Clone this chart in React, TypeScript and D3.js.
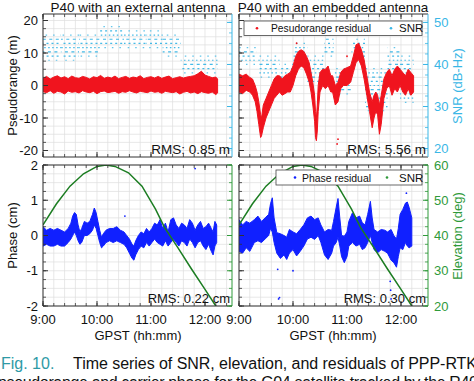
import React from 'react';
import * as d3 from 'd3';

// ---------- data (time in minutes after 9:00 GPST) ----------
const timeTicks = [0, 60, 120, 180];
const timeLabels = ['9:00', '10:00', '11:00', '12:00'];
const prTicks = [20, 10, 0, -10, -20];
const snrTicks = [50, 40, 30, 20];
const phTicks = [2, 1, 0, -1, -2];
const elTicks = [60, 50, 40, 30, 20];

// Left: pseudorange residual envelope (m), external antenna
const prLeftT = [0, 4, 8, 12, 16, 20, 24, 28, 32, 36, 40, 44, 48, 52, 56, 60, 64, 68, 72, 76, 80, 84, 88, 92, 96, 100, 104, 108, 112, 116, 120, 124, 128, 132, 136, 140, 144, 148, 152, 156, 160, 164, 168, 172, 176, 180, 184, 188, 192, 194];
const prLeftLo = [-1.9, -2.2, -1.6, -2.4, -1.8, -2.0, -2.6, -1.7, -2.1, -1.9, -2.3, -1.6, -2.0, -2.2, -1.8, -2.5, -1.9, -1.7, -2.2, -2.0, -1.8, -2.4, -1.9, -2.1, -1.6, -2.0, -2.3, -1.8, -2.0, -2.2, -1.7, -2.1, -1.9, -2.4, -1.8, -2.0, -2.2, -1.9, -2.6, -2.1, -1.8, -2.3, -2.0, -2.5, -1.9, -2.2, -2.4, -2.0, -2.8, -2.3];
const prLeftHi = [2.2, 2.8, 2.0, 2.6, 3.0, 2.3, 2.7, 2.1, 2.9, 2.4, 2.2, 2.8, 2.5, 2.0, 2.7, 2.4, 3.1, 2.2, 2.6, 2.3, 2.9, 2.1, 2.5, 2.8, 2.2, 2.6, 2.4, 3.0, 2.1, 2.5, 2.7, 2.3, 2.8, 2.2, 2.6, 2.9, 2.1, 2.4, 2.7, 2.3, 2.6, 2.8, 3.0, 3.6, 4.4, 3.2, 2.8, 2.4, 2.6, 2.0];

// Right: pseudorange residual envelope (m), embedded antenna
const prRightT = [0, 4, 8, 12, 15, 18, 20, 22, 24, 25, 27, 30, 33, 36, 39, 42, 45, 48, 51, 54, 57, 60, 63, 66, 69, 72, 75, 78, 80, 82, 84, 85, 86, 87, 88, 90, 93, 96, 99, 102, 104, 107, 110, 113, 116, 120, 124, 127, 130, 133, 136, 139, 142, 145, 148, 150, 152, 154, 156, 158, 161, 164, 167, 170, 173, 176, 179, 182, 185, 188, 191, 194];
const prRightLo = [-2, -2.5, -1.5, -2, -3, -5, -8, -12, -16, -15.5, -13, -10, -8, -6, -4, -3, -2, -3, -2.5, -2, -2, 0, 3, 5, 6, 5.5, 3.5, 1, -2, -6, -11, -16, -17, -14, -8, -2, 0, -1, 0, -2, -2, -6, -5, -1, 0, 0, 1, 4, 7, 8, 6, 2, -3, -8, -13, -10, -8, -9, -15, -12, -4, -1, 0, -3, -1, -2, 0, -2, -3, -1, -3, -2];
const prRightHi = [3.5, 3, 3.5, 2.5, 2, 0, -2, -5, -9, -10, -6, -4, -2, 0, 2, 3, 3, 2, 3, 3.5, 4, 6, 9, 10.5, 11, 10.5, 9, 7, 4, 1, -3, -8, -10, -6, 0, 4, 5, 5, 6, 3, 3, 0, 1, 4, 5, 5.5, 6, 9, 12.5, 13, 11, 8, 3, -2, -5, -3, -2, -3, -6, -3, 2, 4, 5, 3, 5, 6, 5, 4, 3, 5, 4, 3];
const prRightOutT = [109, 110, 179, 120, 64];
const prRightOutV = [-18, -16.5, 16, 9, 13];

// SNR (dB-Hz) bands: bin boundaries, lowest and highest observed integer level
const snrLeftT = [0, 20, 40, 63, 90, 115, 133, 153, 194];
const snrLeftLo = [41, 41, 42, 44, 44, 44, 42, 38];
const snrLeftHi = [47, 47, 47, 49, 48, 48, 47, 42];
const snrRightT = [0, 20, 45, 60, 76, 95, 105, 125, 140, 165, 179, 194];
const snrRightLo = [40, 37, 36, 40, 35, 42, 33, 41, 29, 37, 31];
const snrRightHi = [44, 42, 40, 45, 42, 47, 39, 46, 39, 44, 42];

// Phase residual envelopes (cm)
const phLeftT = [0, 4, 8, 12, 16, 20, 24, 28, 31, 33, 35, 37, 39, 41, 43, 46, 49, 52, 55, 57, 59, 61, 63, 65, 67, 70, 74, 78, 82, 86, 90, 93, 96, 99, 101, 103, 106, 109, 112, 115, 118, 121, 124, 127, 130, 133, 136, 139, 142, 145, 148, 151, 154, 157, 160, 163, 166, 169, 172, 175, 178, 181, 184, 187, 189, 191, 193];
const phLeftLo = [-0.3, -0.25, -0.3, -0.3, -0.25, -0.3, -0.3, -0.2, -0.1, 0.0, 0.1, 0.0, -0.15, -0.25, -0.2, 0.0, 0.0, 0.05, 0.15, 0.3, 0.2, 0.0, -0.2, -0.35, -0.3, -0.2, -0.15, -0.2, -0.15, -0.2, -0.25, -0.35, -0.5, -0.65, -0.7, -0.55, -0.4, -0.3, -0.35, -0.2, -0.3, -0.2, -0.1, -0.2, -0.25, -0.3, -0.15, -0.3, -0.2, -0.1, -0.2, -0.3, -0.15, -0.2, -0.3, -0.1, -0.2, -0.35, -0.2, -0.15, -0.3, -0.4, -0.25, -0.45, -0.55, -0.3, -0.2];
const phLeftHi = [0.25, 0.15, 0.2, 0.15, 0.2, 0.15, 0.1, 0.2, 0.35, 0.55, 0.65, 0.6, 0.3, 0.1, 0.2, 0.4, 0.35, 0.4, 0.6, 0.78, 0.65, 0.4, 0.15, -0.05, 0.05, 0.15, 0.2, 0.2, 0.25, 0.15, 0.1, 0.0, -0.1, -0.25, -0.3, -0.15, 0.0, 0.1, 0.05, 0.2, 0.1, 0.2, 0.35, 0.3, 0.45, 0.2, 0.35, 0.1, 0.45, 0.5, 0.3, 0.2, 0.35, 0.3, 0.2, 0.45, 0.35, 0.15, 0.3, 0.4, 0.2, 0.25, 0.35, 0.2, 0.1, 0.4, 0.3];
const phLeftOutT = [169, 91];
const phLeftOutV = [1.9, 0.55];

const phRightT = [0, 4, 8, 12, 17, 21, 25, 29, 33, 35, 37, 39, 42, 46, 50, 53, 56, 60, 64, 68, 72, 76, 80, 84, 88, 91, 95, 99, 103, 105, 108, 110, 112, 114, 117, 120, 122, 126, 130, 134, 137, 140, 143, 146, 148, 150, 154, 158, 162, 165, 169, 172, 175, 177, 179, 182, 185, 187, 189, 192];
const phRightLo = [-0.45, -0.5, -0.35, -0.45, -0.2, -0.15, -0.2, -0.1, 0.0, 0.2, 0.1, -0.2, -0.5, -0.65, -0.55, -0.68, -0.5, -0.4, -0.58, -0.45, -0.3, -0.1, -0.05, -0.11, 0.0, -0.2, -0.55, -0.68, -0.5, -0.3, -0.2, -0.05, -0.3, -0.6, -0.77, -0.6, -0.3, -0.2, -0.3, -0.25, -0.4, -0.35, -0.2, 0.0, -0.2, -0.4, -0.49, -0.4, -0.45, -0.5, -0.7, -0.77, -0.9, -0.6, -0.35, -0.4, -0.2, -0.3, -0.35, -0.3];
const phRightHi = [0.45, 0.3, 0.4, 0.35, 0.45, 0.55, 0.4, 0.5, 0.6, 0.9, 1.07, 0.5, 0.08, 0.05, 0.0, -0.05, 0.17, 0.1, 0.05, 0.17, 0.3, 0.5, 0.55, 0.45, 0.5, 0.3, 0.1, 0.17, 0.15, 0.4, 0.8, 1.05, 0.5, 0.0, -0.02, 0.1, 0.4, 0.64, 0.5, 0.55, 0.36, 0.3, 0.6, 0.97, 0.5, 0.17, 0.1, 0.17, 0.15, 0.1, 0.17, 0.0, -0.1, 0.2, 0.6, 0.74, 0.92, 0.95, 0.8, 0.5];
const phRightOutT = [43, 45, 44, 168, 168.5, 169, 186, 60];
const phRightOutV = [-0.96, -1.76, -1.8, -1.3, -1.55, -1.8, 1.2, -1.0];

// Satellite elevation (deg)
const elevT = [0, 15, 30, 45, 60, 70, 80, 95, 110, 125, 135, 150, 165, 180, 192, 200];
const elevV = [43, 49, 54, 57.5, 59.6, 60, 59.6, 57.8, 54, 47.5, 42.3, 36.5, 30.5, 24.7, 20, 17];

// ---------- styles ----------
const FONT = '"Liberation Sans", Arial, Helvetica, sans-serif';
const RED = '#f0141e';
const BLUE = '#1020ff';
const CYAN = '#3ab7e6';
const GREEN = '#2f9a3a';
const DKGREEN = '#1c7d22';
const GRID = '#dedede';
const AXIS = '#333';

const PW = 189;
const PANEL_X = [43, 239];
const TOP = { y0: 14, y1: 157 };
const BOT = { y0: 165, y1: 306 };

function envelope(T: number[], lo: number[], hi: number[], x: any, y: any) {
  const idx = T.map((_, i) => i);
  return d3.area<number>()
    .x((i) => x(T[i]))
    .y0((i) => y(lo[i]))
    .y1((i) => y(hi[i]))(idx) || '';
}

function Grid({ x0, y0, y1, yScale, yMinorStep, yDomain }: any) {
  const x = d3.scaleLinear().domain([0, 210]).range([x0, x0 + PW]);
  const x1 = x0 + PW;
  const minorT = d3.range(0, 211, 12);
  const yMinor = d3.range(Math.ceil(yDomain[0] / yMinorStep) * yMinorStep, yDomain[1] + 1e-9, yMinorStep);
  return (
    <g>
      {minorT.map((t) => (
        <line key={'gx' + t} x1={x(t)} x2={x(t)} y1={y0} y2={y1} stroke={GRID} strokeWidth={0.7} />
      ))}
      {yMinor.map((v) => (
        <line key={'gy' + v} x1={x0} x2={x1} y1={yScale(v)} y2={yScale(v)} stroke={GRID} strokeWidth={0.7} />
      ))}
    </g>
  );
}

function Axes({ x0, y0, y1, yScale, yMajor, yMinorStep, yDomain, rightColor, leftLabels, rightLabels, rightScale, rightTicks, rightMinorStep, rightDomain, xLabels }: any) {
  const x = d3.scaleLinear().domain([0, 210]).range([x0, x0 + PW]);
  const x1 = x0 + PW;
  const minorT = d3.range(0, 211, 12);
  const yMinor = d3.range(Math.ceil(yDomain[0] / yMinorStep) * yMinorStep, yDomain[1] + 1e-9, yMinorStep);
  const rMinor = d3.range(Math.ceil(rightDomain[0] / rightMinorStep) * rightMinorStep, rightDomain[1] + 1e-9, rightMinorStep);
  return (
    <g>
      <line x1={x0} x2={x1} y1={y0} y2={y0} stroke={AXIS} strokeWidth={1} />
      <line x1={x0} x2={x1} y1={y1} y2={y1} stroke={AXIS} strokeWidth={1} />
      <line x1={x0} x2={x0} y1={y0} y2={y1} stroke={AXIS} strokeWidth={1} />
      <line x1={x1} x2={x1} y1={y0} y2={y1} stroke={rightColor} strokeWidth={1} />
      {minorT.map((t) => (
        <g key={'tx' + t}>
          <line x1={x(t)} x2={x(t)} y1={y1} y2={y1 - 3} stroke={AXIS} strokeWidth={0.8} />
          <line x1={x(t)} x2={x(t)} y1={y0} y2={y0 + 3} stroke={AXIS} strokeWidth={0.8} />
        </g>
      ))}
      {timeTicks.map((t) => (
        <g key={'Tx' + t}>
          <line x1={x(t)} x2={x(t)} y1={y1} y2={y1 - 5} stroke={AXIS} strokeWidth={1} />
          <line x1={x(t)} x2={x(t)} y1={y0} y2={y0 + 5} stroke={AXIS} strokeWidth={1} />
        </g>
      ))}
      {yMinor.map((v) => (
        <line key={'ty' + v} x1={x0} x2={x0 + 3} y1={yScale(v)} y2={yScale(v)} stroke={AXIS} strokeWidth={0.8} />
      ))}
      {yMajor.map((v: number) => (
        <line key={'Ty' + v} x1={x0} x2={x0 + 5} y1={yScale(v)} y2={yScale(v)} stroke={AXIS} strokeWidth={1} />
      ))}
      {rMinor.map((v) => (
        <line key={'tr' + v} x1={x1} x2={x1 - 3} y1={rightScale(v)} y2={rightScale(v)} stroke={rightColor} strokeWidth={0.8} />
      ))}
      {rightTicks.map((v: number) => (
        <line key={'Tr' + v} x1={x1} x2={x1 - 5} y1={rightScale(v)} y2={rightScale(v)} stroke={rightColor} strokeWidth={1} />
      ))}
      {leftLabels && yMajor.map((v: number) => (
        <text key={'ly' + v} x={x0 - 5} y={yScale(v) + 4.5} fontSize={13} textAnchor="end" fill="#111">{v}</text>
      ))}
      {rightLabels && rightTicks.map((v: number) => (
        <text key={'lr' + v} x={x1 + 6} y={rightScale(v) + 4.5} fontSize={13} textAnchor="start" fill={rightColor}>{v}</text>
      ))}
      {xLabels && timeTicks.map((t, i) => (
        <text key={'lx' + t} x={x(t)} y={324} fontSize={13} textAnchor="middle" fill="#111">{timeLabels[i]}</text>
      ))}
    </g>
  );
}

function SnrDashes({ T, lo, hi, x, y }: any) {
  const out: any[] = [];
  for (let i = 0; i < T.length - 1; i++) {
    for (let L = lo[i]; L <= hi[i]; L++) {
      const edge = L === lo[i] || L === hi[i];
      out.push(
        <line key={i + '-' + L} x1={x(T[i])} x2={x(T[i + 1])} y1={y(L)} y2={y(L)}
          stroke={CYAN} strokeWidth={1.2}
          strokeDasharray={edge ? '1.5 6' : (L % 3 === 0 ? '2 3' : L % 3 === 1 ? '3 3.5' : '1.5 2.5')}
          strokeDashoffset={L * 1.7 + i} opacity={edge ? 0.8 : 0.95} />
      );
    }
  }
  return <g>{out}</g>;
}

export default function App() {
  const panels = PANEL_X.map((x0) => d3.scaleLinear().domain([0, 210]).range([x0, x0 + PW]));
  const yPr = d3.scaleLinear().domain([-22, 22]).range([TOP.y1, TOP.y0]);
  const ySnr = d3.scaleLinear().domain([18, 52]).range([TOP.y1, TOP.y0]);
  const yPh = d3.scaleLinear().domain([-2, 2]).range([BOT.y1, BOT.y0]);
  const yEl = d3.scaleLinear().domain([20, 60]).range([BOT.y1, BOT.y0]);

  const elevLine = (x: any) => d3.line<number>().x((i) => x(elevT[i])).y((i) => yEl(elevV[i]))(elevT.map((_, i) => i)) || '';

  const topCfg = { y0: TOP.y0, y1: TOP.y1, yScale: yPr, yMajor: prTicks, yMinorStep: 2.5, yDomain: [-22, 22], rightColor: CYAN, rightScale: ySnr, rightTicks: snrTicks, rightMinorStep: 2.5, rightDomain: [18, 52] };
  const botCfg = { y0: BOT.y0, y1: BOT.y1, yScale: yPh, yMajor: phTicks, yMinorStep: 0.25, yDomain: [-2, 2], rightColor: GREEN, rightScale: yEl, rightTicks: elTicks, rightMinorStep: 2.5, rightDomain: [20, 60] };

  return (
    <svg width={474} height={381} style={{ position: 'absolute', left: 0, top: 0, background: '#fff' }} fontFamily={FONT}>
      <defs>
        {PANEL_X.map((x0, i) => (
          <g key={i}>
            <clipPath id={'ct' + i}><rect x={x0} y={TOP.y0} width={PW} height={TOP.y1 - TOP.y0} /></clipPath>
            <clipPath id={'cb' + i}><rect x={x0} y={BOT.y0} width={PW} height={BOT.y1 - BOT.y0} /></clipPath>
          </g>
        ))}
      </defs>
      <rect x={0} y={0} width={474} height={381} fill="#fff" />

      {/* grids */}
      {PANEL_X.map((x0, i) => (
        <g key={'g' + i}>
          <Grid x0={x0} {...topCfg} />
          <Grid x0={x0} {...botCfg} />
        </g>
      ))}

      {/* top-left */}
      <g clipPath="url(#ct0)">
        <SnrDashes T={snrLeftT} lo={snrLeftLo} hi={snrLeftHi} x={panels[0]} y={ySnr} />
        <path d={envelope(prLeftT, prLeftLo, prLeftHi, panels[0], yPr)} fill={RED} stroke={RED} strokeWidth={1} />
      </g>
      {/* top-right */}
      <g clipPath="url(#ct1)">
        <SnrDashes T={snrRightT} lo={snrRightLo} hi={snrRightHi} x={panels[1]} y={ySnr} />
        <path d={envelope(prRightT, prRightLo, prRightHi, panels[1], yPr)} fill={RED} stroke={RED} strokeWidth={1} />
        {prRightOutT.map((t, i) => (
          <circle key={i} cx={panels[1](t)} cy={yPr(prRightOutV[i])} r={0.9} fill={RED} />
        ))}
      </g>
      {/* bottom-left */}
      <g clipPath="url(#cb0)">
        <path d={envelope(phLeftT, phLeftLo, phLeftHi, panels[0], yPh)} fill={BLUE} stroke={BLUE} strokeWidth={1} />
        {phLeftOutT.map((t, i) => (
          <circle key={i} cx={panels[0](t)} cy={yPh(phLeftOutV[i])} r={0.9} fill={BLUE} />
        ))}
        <path d={elevLine(panels[0])} fill="none" stroke={DKGREEN} strokeWidth={1.5} />
      </g>
      {/* bottom-right */}
      <g clipPath="url(#cb1)">
        <path d={envelope(phRightT, phRightLo, phRightHi, panels[1], yPh)} fill={BLUE} stroke={BLUE} strokeWidth={1} />
        {phRightOutT.map((t, i) => (
          <circle key={i} cx={panels[1](t)} cy={yPh(phRightOutV[i])} r={0.9} fill={BLUE} />
        ))}
        <path d={elevLine(panels[1])} fill="none" stroke={DKGREEN} strokeWidth={1.5} />
      </g>

      {/* axes */}
      <Axes x0={PANEL_X[0]} {...topCfg} leftLabels={true} rightLabels={false} xLabels={false} />
      <Axes x0={PANEL_X[1]} {...topCfg} leftLabels={false} rightLabels={true} xLabels={false} />
      <Axes x0={PANEL_X[0]} {...botCfg} leftLabels={true} rightLabels={false} xLabels={true} />
      <Axes x0={PANEL_X[1]} {...botCfg} leftLabels={false} rightLabels={true} xLabels={true} />

      {/* legends */}
      <g>
        <rect x={244} y={21} width={178} height={14.5} fill="#fff" stroke="#444" strokeWidth={0.8} />
        <circle cx={257} cy={28.3} r={1.3} fill={RED} />
        <text x={271} y={32.3} fontSize={11.5} fill="#111" textLength={100} lengthAdjust="spacingAndGlyphs">Pesudorange residual</text>
        <circle cx={391} cy={28.3} r={1.3} fill={CYAN} />
        <text x={399} y={32.3} fontSize={11.5} fill="#111">SNR</text>
      </g>
      <g>
        <rect x={276} y={170} width={146} height={15} fill="#fff" stroke="#444" strokeWidth={0.8} />
        <circle cx={295} cy={177.5} r={1.3} fill={BLUE} />
        <text x={302} y={181.8} fontSize={11.5} fill="#111" textLength={69} lengthAdjust="spacingAndGlyphs">Phase residual</text>
        <circle cx={387} cy={177.5} r={1.3} fill={GREEN} />
        <text x={399} y={181.8} fontSize={11.5} fill="#111">SNR</text>
      </g>

      {/* RMS */}
      <text x={230} y={153.5} fontSize={13.5} textAnchor="end" fill="#111">RMS: 0.85 m</text>
      <text x={426} y={153.5} fontSize={13.5} textAnchor="end" fill="#111">RMS: 5.56 m</text>
      <text x={230} y={303} fontSize={13} textAnchor="end" fill="#111">RMS: 0.22 cm</text>
      <text x={426} y={303} fontSize={13} textAnchor="end" fill="#111">RMS: 0.30 cm</text>

      {/* titles */}
      <text x={138} y={12} fontSize={13.5} textAnchor="middle" fill="#111">P40 with an external antenna</text>
      <text x={333} y={12} fontSize={13.5} textAnchor="middle" fill="#111">P40 with an embedded antenna</text>

      {/* axis titles */}
      <text transform="translate(17,85.5) rotate(-90)" fontSize={13} textAnchor="middle" fill="#111">Pseudorange (m)</text>
      <text transform="translate(17,235.5) rotate(-90)" fontSize={13} textAnchor="middle" fill="#111">Phase (cm)</text>
      <text transform="translate(462,86) rotate(-90)" fontSize={13} textAnchor="middle" fill={CYAN}>SNR (dB-Hz)</text>
      <text transform="translate(462,236) rotate(-90)" fontSize={13} textAnchor="middle" fill={GREEN}>Elevation (deg)</text>
      <text x={138} y={340} fontSize={13} textAnchor="middle" fill="#111">GPST (hh:mm)</text>
      <text x={333} y={340} fontSize={13} textAnchor="middle" fill="#111">GPST (hh:mm)</text>

      {/* caption */}
      <text x={1} y={369} fontSize={16} fill="#2e9aa6">Fig. 10.</text>
      <text x={73} y={369} fontSize={16} fill="#111" textLength={404} lengthAdjust="spacing">Time series of SNR, elevation, and residuals of PPP-RTK</text>
      <text x={-2} y={388} fontSize={16} fill="#111" textLength={480} lengthAdjust="spacing">pseudorange and carrier phase for the G04 satellite tracked by the R40</text>
    </svg>
  );
}
